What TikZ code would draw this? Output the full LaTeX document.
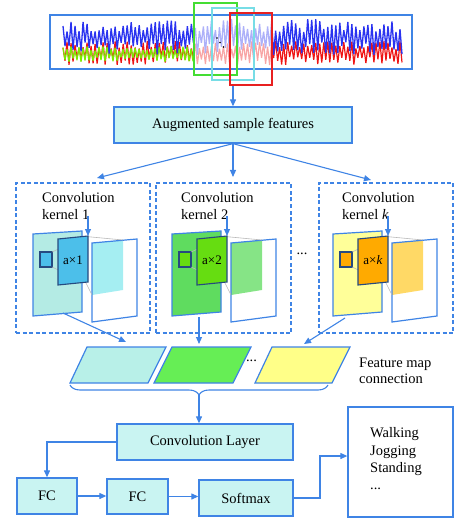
\documentclass[tikz,border=0pt]{standalone}
\usepackage{fontspec}
\setmainfont{Liberation Serif}
\usetikzlibrary{arrows.meta,calc,decorations.pathreplacing}
\definecolor{lb}{HTML}{3F84E5}
\definecolor{boxfill}{HTML}{C9F4F2}
\definecolor{kdark}{HTML}{264A80}
\definecolor{sigblue}{HTML}{2A33F0}
\definecolor{sigred}{HTML}{EE1414}
\definecolor{siggreen}{HTML}{7CEB00}
\definecolor{cAbig}{HTML}{B4EBE4}
\definecolor{cAk}{HTML}{4CBFEA}
\definecolor{cAf}{HTML}{A5EEF2}
\definecolor{cBbig}{HTML}{5FDC5F}
\definecolor{cBk}{HTML}{66DD11}
\definecolor{cBf}{HTML}{86E486}
\definecolor{cCbig}{HTML}{FFFF99}
\definecolor{cCk}{HTML}{FFAA00}
\definecolor{cCf}{HTML}{FFD966}
\definecolor{pA}{HTML}{B8F0E8}
\definecolor{pB}{HTML}{66EE55}
\definecolor{pC}{HTML}{FFFF88}
\definecolor{winG}{HTML}{44DD33}
\definecolor{winC}{HTML}{77DDE6}
\definecolor{winR}{HTML}{E82020}
\tikzset{
  arr/.style={draw=lb, line width=1.1pt, -{Triangle[length=7pt,width=6pt]}},
  procbox/.style={draw=lb, line width=1.3pt, fill=boxfill, inner sep=0pt},
  dbox/.style={draw=lb, line width=1.2pt, dash pattern=on 4pt off 2.5pt, inner sep=0pt},
  panel/.style={draw=lb, line width=1.2pt},
  kpanel/.style={draw=kdark, line width=1.1pt},
  txt/.style={inner sep=0pt},
  every node/.style={font=\fontsize{14.5}{17}\selectfont},
}
\newcommand\kgroup[6]{%
\begin{scope}[shift={(#1,0)}]
  \filldraw[panel, fill=#2] (33,234) -- (82,231) -- (82,312) -- (33,316) -- cycle;
  \fill[#4] (92,243) -- (123,240) -- (123,290) -- (92,295) -- cycle;
  \draw[panel] (92,243) -- (137,239) -- (137,316) -- (92,322) -- cycle;
  \filldraw[kpanel, fill=#3] (40,252) rectangle (52,267);
  \draw[gray!55, line width=0.6pt] (52,252) -- (86,236.5) -- (123,240);
  \draw[gray!55, line width=0.6pt] (52,267) -- (86,283) -- (92,295);
  \filldraw[kpanel, fill=#3] (58,239) -- (88,236) -- (88,282) -- (58,285) -- cycle;
  \node[txt] (kl#6) at (73,260.5) {\fontsize{13}{15}\selectfont a×#5};
  \node[txt, anchor=base west] (ta#6) at (42,203) {Convolution};
  \node[txt, anchor=base west] (tb#6) at (42,220) {kernel #5};
  \coordinate (kt#6) at (88,236);
  \coordinate (ks#6) at (88,216);
  \draw[arr] (ks#6) -- (kt#6);
\end{scope}}
\begin{document}
\begin{tikzpicture}[x=1pt,y=-1pt]
\useasboundingbox (0,0) rectangle (474,526);
% ---------- signal ----------
\pgfmathsetseed{7}
\draw[sigred, line width=1.2pt, line join=bevel] plot[domain=63:402, samples=170] (\x,{53-(1-2*mod(round((\x-63)/2),2))*(4+8*rnd)});
\draw[siggreen, line width=1.2pt, line join=bevel] plot[domain=63:195, samples=67] (\x,{54-(1-2*mod(round((\x-63)/2),2))*(3+5*rnd)});
\draw[sigblue, line width=1.3pt, line join=bevel] plot[domain=63:402, samples=170] (\x,{37-(1-2*mod(round((\x-63)/2),2))*(5+13*rnd)});
\fill[white, opacity=0.62] (195,16) rectangle (271,68);
\node[draw=lb, line width=1.3pt, minimum width=362pt, minimum height=54pt, inner sep=0pt] (sig) at (231,42) {};
\node[draw=winG, line width=1.4pt, minimum width=43pt, minimum height=72pt, inner sep=0pt] (wg) at (215.5,39) {};
\node[draw=winC, line width=1.4pt, minimum width=42pt, minimum height=72pt, inner sep=0pt] (wc) at (233,44) {};
\node[draw=winR, line width=1.6pt, minimum width=42pt, minimum height=72pt, inner sep=0pt] (wr) at (251,49) {};
\fill[black] (217,38) circle (0.8) (220,42.5) circle (0.8) (223.5,47) circle (0.8);
% ---------- augmented ----------
\node[procbox, minimum width=238pt, minimum height=36pt] (aug) at (233,125) {Augmented sample features};
\draw[arr] (wr.south -| aug.north) -- (aug.north);
% ---------- kernel boxes ----------
\node[dbox, minimum width=134pt, minimum height=150pt] (d1) at (83,258) {};
\node[dbox, minimum width=135pt, minimum height=150pt] (d2) at (223.5,258) {};
\node[dbox, minimum width=134pt, minimum height=150pt] (d3) at (386,258) {};
\coordinate (e1) at (97,178);
\coordinate (e2) at (233,177);
\coordinate (e3) at (371,180);
\draw[arr] (aug.south) -- (e1);
\draw[arr] (aug.south) -- (e2);
\draw[arr] (aug.south) -- (e3);
\kgroup{0}{cAbig}{cAk}{cAf}{1}{A}
\kgroup{139}{cBbig}{cBk}{cBf}{2}{B}
\kgroup{300}{cCbig}{cCk}{cCf}{\textit{k}}{C}
\node[txt] (dk) at (302,254) {...};
% ---------- feature maps ----------
\filldraw[panel, fill=pA] (70,383) -- (148,383) -- (166,347) -- (87,347) -- cycle;
\filldraw[panel, fill=pB] (154,383) -- (233,383) -- (251,347) -- (172,347) -- cycle;
\filldraw[panel, fill=pC] (255,383) -- (332,383) -- (350,347) -- (272,347) -- cycle;
\node[txt] (dp) at (251.5,361) {...};
\node[txt, anchor=base west] (fm1) at (359,367) {Feature map};
\node[txt, anchor=base west] (fm2) at (359,383) {connection};
\coordinate (s1) at (63,313);
\coordinate (t1) at (126,342);
\coordinate (s2) at (199,317);
\coordinate (t2) at (199,344);
\coordinate (s3) at (345,318);
\coordinate (t3) at (304,344);
\draw[arr] (s1) -- (t1);
\draw[arr] (s2) -- (t2);
\draw[arr] (s3) -- (t3);
\draw[lb, line width=1.1pt, decorate, decoration={brace, mirror, amplitude=10pt}] (70,385) -- (328,385);
\coordinate (bt) at (199,395);
% ---------- bottom ----------
\node[procbox, minimum width=176pt, minimum height=36pt] (conv) at (205,442) {Convolution Layer};
\draw[arr] (bt) -- (bt |- conv.north);
\node[procbox, minimum width=60pt, minimum height=36pt] (fc1) at (47,496) {FC};
\node[procbox, minimum width=61pt, minimum height=35pt] (fc2) at (137.5,496.5) {FC};
\node[procbox, minimum width=94pt, minimum height=36pt] (soft) at (246,498) {Softmax};
\node[draw=lb, line width=1.3pt, minimum width=105pt, minimum height=110pt, inner sep=0pt] (res) at (400.5,462) {};
\node[txt, anchor=base west] (r1) at (370,437) {Walking};
\node[txt, anchor=base west] (r2) at (370,455) {Jogging};
\node[txt, anchor=base west] (r3) at (370,472) {Standing};
\node[txt, anchor=base west] (r4) at (370,489) {...};
\draw[arr] (conv.west) -| (fc1.north);
\draw[arr] (fc1.east) -- (fc2.west |- fc1.east);
\draw[arr] (fc2.east) -- (soft.west |- fc2.east);
\coordinate (bend) at (320,456);
\draw[arr] (soft.east) -| (bend) -- (res.west |- bend);
\end{tikzpicture}
\end{document}
